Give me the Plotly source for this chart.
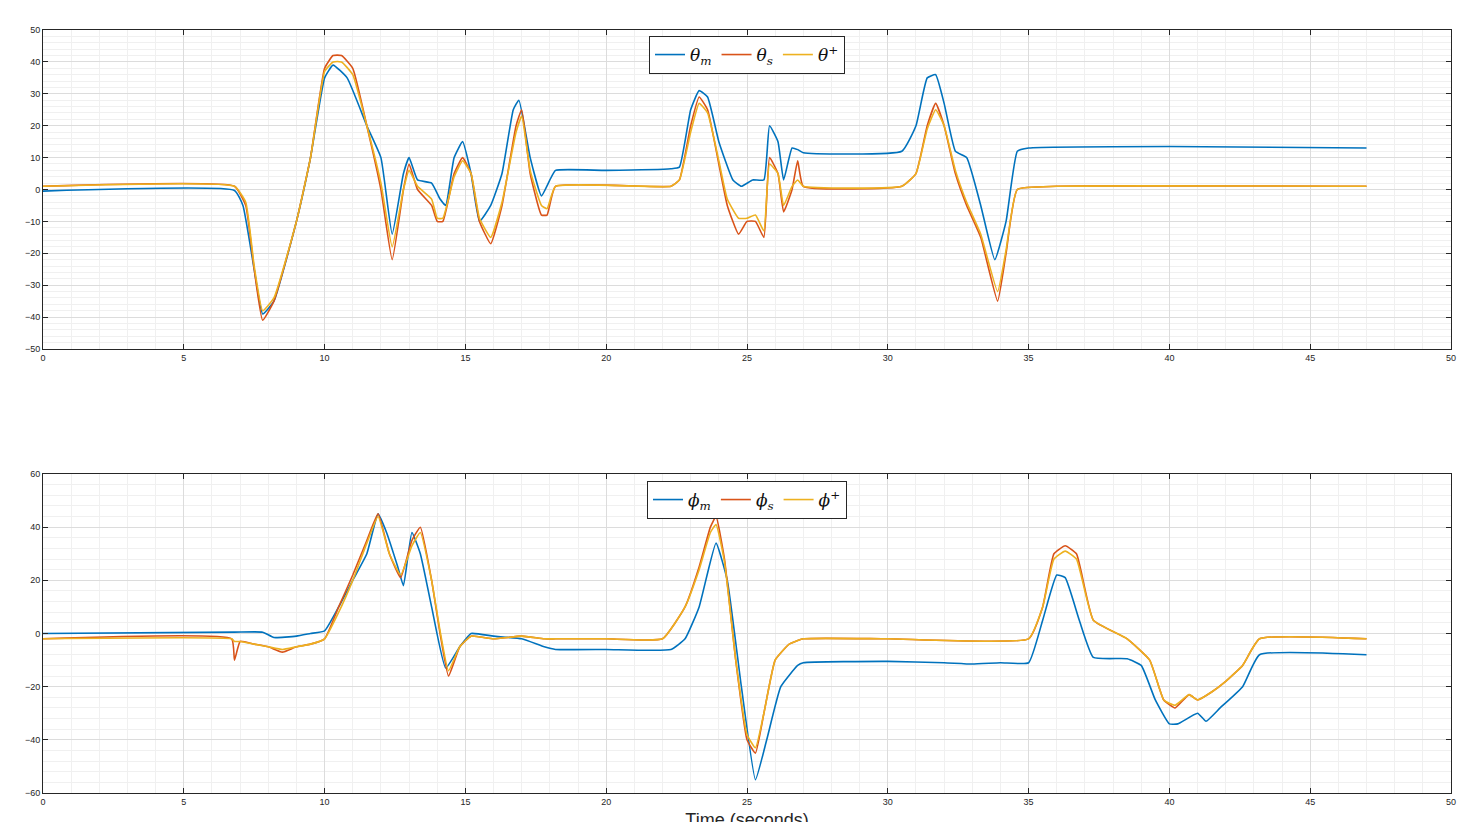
import plotly.graph_objects as go

# top: theta
tm_t = [0,6.8,7.1,7.5,7.8,8.2,9,9.5,10,10.3,10.8,11.5,12,12.4,12.8,13.0,13.3,13.8,14.1,14.3,14.6,14.9,15.2,15.5,15.9,16.3,16.7,16.9,17.3,17.7,18.0,18.2,20,22.3,22.6,23,23.3,23.6,24,24.5,24.8,25.2,25.6,25.8,26.1,26.3,26.6,26.8,27,30.5,31,31.4,31.7,32,32.4,32.8,33.3,33.8,34.2,34.6,35,40,47]
tm_v = [-0.5,-0.3,-5,-25,-39,-35,-10,10,35,39,35,20,10,-14,5,10,3,2,-3,-5,10,15,5,-10,-5,5,25,28,10,-2,3,6,6,6.5,7,25,31,29,15,3,1,3,3,20,15,3,13,12.5,11.5,12,20,35,36,27,12,10,-5,-22,-10,12,13,13.5,13]
ts_t = [0,6.8,7.2,7.5,7.8,8.2,9,9.5,10,10.3,10.6,11,11.5,12,12.4,12.8,13,13.3,13.8,14,14.2,14.6,14.9,15.2,15.5,15.9,16.3,16.8,17,17.3,17.7,17.9,18.2,22.3,22.6,23,23.3,23.6,24,24.3,24.7,25,25.3,25.6,25.8,26.1,26.3,26.6,26.8,27,30.5,31,31.4,31.7,32,32.4,32.8,33.3,33.9,34.2,34.6,36,47]
ts_v = [1,1,-5,-25,-41,-35,-10,10,38,42,42,38,20,0,-22,0,8,0,-5,-10,-10,5,10,5,-10,-17,-5,20,25,5,-8,-8,1,1,3,20,29,25,8,-5,-14,-10,-10,-15,10,5,-7,0,9,1,1,5,20,27,20,5,-5,-15,-35,-20,0,1,1]
tp_t = ts_t
tp_v = [1,1,-4,-24,-38,-34,-10,10,37,40,40,36,20,2,-18,0,6,1,-3,-9,-9,4,9,5,-9,-15,-4,18,23,6,-5,-6,1,1,3,18,27,24,9,-3,-9,-9,-8,-13,8,5,-5,1,3,1,1,5,19,25,20,6,-4,-14,-32,-19,0,1,1]

# bottom: phi
pm_t = [0,6.8,7.8,8.2,9,9.5,10,10.5,11,11.5,11.9,12.2,12.6,12.8,13.1,13.4,13.8,14.3,14.8,15.2,16,17,17.8,18.2,20,22.3,22.8,23.3,23.9,24.3,24.8,25.3,25.7,26.2,26.8,27,30,32,33,34,35,35.5,36,36.3,36.8,37.3,38.5,39,39.5,40,40.3,41,41.3,41.8,42.6,43.2,47]
pm_v = [0,0.5,0.5,-1.5,-1,0,1,10,20,30,45,38,25,18,38,30,10,-13,-5,0,-1,-2,-5,-6,-6,-6,-2,10,34,20,-20,-55,-40,-20,-12,-11,-10.5,-11,-11.5,-11,-11,5,22,21,5,-9,-9.5,-12,-25,-34,-34,-30,-33,-28,-20,-8,-8]
ps_t = [0,6.7,6.8,7.0,7.5,8,8.5,9,9.5,10,10.5,11,11.5,11.9,12.3,12.7,13.1,13.4,13.8,14.1,14.4,14.8,15.2,16,17,17.8,18.2,20,22,22.8,23.3,23.7,23.9,24.2,24.6,25,25.3,25.6,26,26.5,27,30,35,35.5,35.9,36.3,36.7,37.3,38.5,39.3,39.8,40.2,40.7,41,41.5,42,42.6,43.2,47]
ps_v = [-2,-2,-10,-3,-4,-5,-7,-5,-4,-2,10,22,35,45,30,21,35,40,20,0,-16,-5,-1,-2,-1,-2,-2,-2,-2,10,25,40,44,28,-10,-40,-45,-30,-10,-4,-2,-2,-2,10,30,33,30,5,-2,-10,-25,-28,-23,-25,-22,-18,-12,-2,-2]
pp_t = ps_t
pp_v = [-2,-2,-3,-3,-4,-5,-6,-5,-4,-2,8,20,34,44,30,22,33,38,20,1,-14,-5,-1,-2,-1,-2,-2,-2,-2,10,24,38,41,27,-10,-38,-43,-30,-10,-4,-2,-2,-2,10,28,31,28,5,-2,-10,-25,-27,-23,-25,-22,-18,-12,-2,-2]

C = ['#0072BD', '#D95319', '#EDB120']
fig = go.Figure()
def add(x, y, name, c, xa, ya, lg):
    fig.add_trace(go.Scatter(x=x, y=y, name=name, mode='lines', line=dict(color=c, width=1.6, shape='spline', smoothing=0.4),
                             xaxis=xa, yaxis=ya, legend=lg))
add(tm_t, tm_v, '<i>θ<sub>m</sub></i>', C[0], 'x', 'y', 'legend')
add(ts_t, ts_v, '<i>θ<sub>s</sub></i>', C[1], 'x', 'y', 'legend')
add(tp_t, tp_v, '<i>θ</i><sup>+</sup>', C[2], 'x', 'y', 'legend')
add(pm_t, pm_v, '<i>ϕ<sub>m</sub></i>', C[0], 'x2', 'y2', 'legend2')
add(ps_t, ps_v, '<i>ϕ<sub>s</sub></i>', C[1], 'x2', 'y2', 'legend2')
add(pp_t, pp_v, '<i>ϕ</i><sup>+</sup>', C[2], 'x2', 'y2', 'legend2')

ax = dict(showline=True, linecolor='#262626', mirror='ticks', ticks='inside', ticklen=5, tickcolor='#262626',
          showgrid=True, gridcolor='#dcdcdc', zeroline=False, tickfont=dict(size=9, color='#262626'), automargin=False)
W, H = 1474, 822
off = 8
xd = [(43-off)/W, (1451-off)/W]
def yd(top, bot):
    return [1-(bot-off)/H, 1-(top-off)/H]
lf = dict(size=17, family='DejaVu Serif', color='#111')
fig.update_layout(
    width=W, height=H, margin=dict(l=0, r=0, t=0, b=0, autoexpand=False), plot_bgcolor='white', paper_bgcolor='white',
    font=dict(family='Liberation Sans'),
    xaxis=dict(ax, domain=xd, range=[0, 50], dtick=5, anchor='y', minor=dict(showgrid=True, gridcolor='#f0f0f0', dtick=1)),
    yaxis=dict(ax, domain=yd(30, 349), range=[-50, 50], dtick=10, anchor='x', minor=dict(showgrid=True, gridcolor='#f0f0f0', dtick=2)),
    xaxis2=dict(ax, domain=xd, range=[0, 50], dtick=5, anchor='y2', minor=dict(showgrid=True, gridcolor='#f0f0f0', dtick=1),
                title=dict(text='Time (seconds)', font=dict(size=18, color='#262626'), standoff=12)),
    yaxis2=dict(ax, domain=yd(474, 793), range=[-60, 60], dtick=20, anchor='x2', minor=dict(showgrid=True, gridcolor='#f0f0f0', dtick=4)),
    legend=dict(orientation='h', x=(747-off)/W, xanchor='center', y=1-(36-off)/H, yanchor='top', bordercolor='#262626', borderwidth=1,
                bgcolor='white', font=lf, itemwidth=30),
    legend2=dict(orientation='h', x=(747-off)/W, xanchor='center', y=1-(481-off)/H, yanchor='top', bordercolor='#262626', borderwidth=1,
                 bgcolor='white', font=lf, itemwidth=30),
)
fig.write_html('out.html')
